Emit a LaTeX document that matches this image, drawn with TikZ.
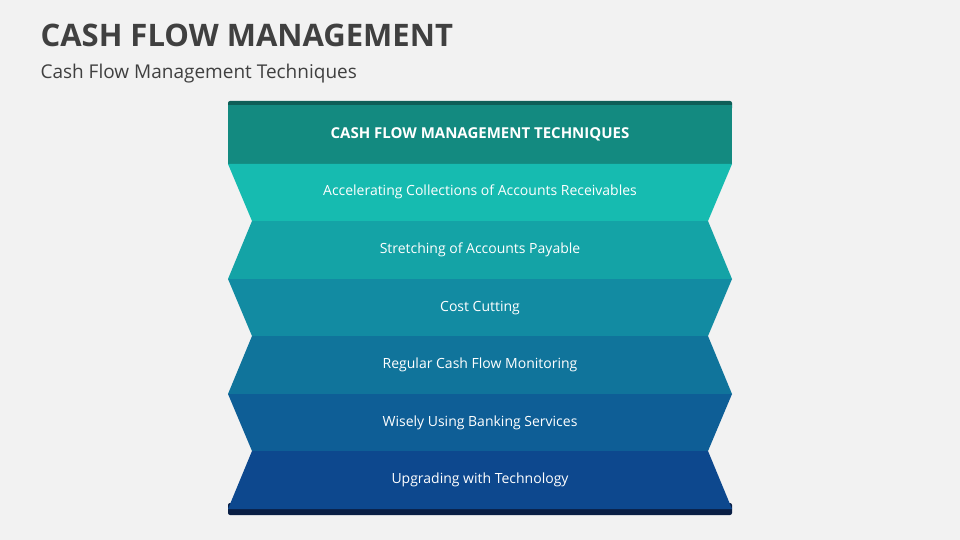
\documentclass[tikz,border=0pt]{standalone}
\usepackage{fontspec}
\setmainfont{Open Sans}
\definecolor{bg}{HTML}{F2F2F2}
\definecolor{hd}{HTML}{138A80}
\definecolor{hdtop}{HTML}{0E5E57}
\definecolor{bA}{HTML}{16BBB0}
\definecolor{bB}{HTML}{14A3A6}
\definecolor{bC}{HTML}{128BA2}
\definecolor{bD}{HTML}{10749B}
\definecolor{bE}{HTML}{0E5E96}
\definecolor{bF}{HTML}{0D488E}
\definecolor{bot}{HTML}{0A1F45}
\definecolor{ttl}{HTML}{404040}
\begin{document}
\begin{tikzpicture}[x=1pt,y=-1pt,
  lbl/.style={text=white,font=\fontsize{14}{16}\selectfont},
  band/.style={draw=none}]
\fill[bg] (0,0) rectangle (960,540);
\useasboundingbox (0,0) rectangle (960,540);
\node[anchor=west,text=ttl,font=\fontsize{31}{36}\selectfont\bfseries] (title) at (37,35) {CASH FLOW MANAGEMENT};
\node[anchor=west,text=ttl,font=\fontsize{19}{22}\selectfont] (sub) at (37,74) {Cash Flow Management Techniques};
% strips
\fill[hdtop,rounded corners=2pt] (228,101) rectangle (732,110);
\fill[bot,rounded corners=2pt] (228,503) rectangle (732,515);
\fill[hd] (228,105) rectangle (732,164);
\fill[bA] (228,164) -- (732,164) -- (708,221) -- (252,221) -- cycle;
\fill[bB] (252,221) -- (708,221) -- (732,279) -- (228,279) -- cycle;
\fill[bC] (228,279) -- (732,279) -- (708,336) -- (252,336) -- cycle;
\fill[bD] (252,336) -- (708,336) -- (732,394) -- (228,394) -- cycle;
\fill[bE] (228,394) -- (732,394) -- (708,451) -- (252,451) -- cycle;
\fill[bF] (252,451) -- (708,451) -- (732,509) -- (228,509) -- cycle;
\node[text=white,font=\fontsize{15}{18}\selectfont\bfseries] (h) at (480,134) {CASH FLOW MANAGEMENT TECHNIQUES};
\node[lbl] (t1) at (480,192) {Accelerating Collections of Accounts Receivables};
\node[lbl] (t2) at (480,250) {Stretching of Accounts Payable};
\node[lbl] (t3) at (480,308) {Cost Cutting};
\node[lbl] (t4) at (480,365) {Regular Cash Flow Monitoring};
\node[lbl] (t5) at (480,423) {Wisely Using Banking Services};
\node[lbl] (t6) at (480,480) {Upgrading with Technology};
\end{tikzpicture}
\end{document}
